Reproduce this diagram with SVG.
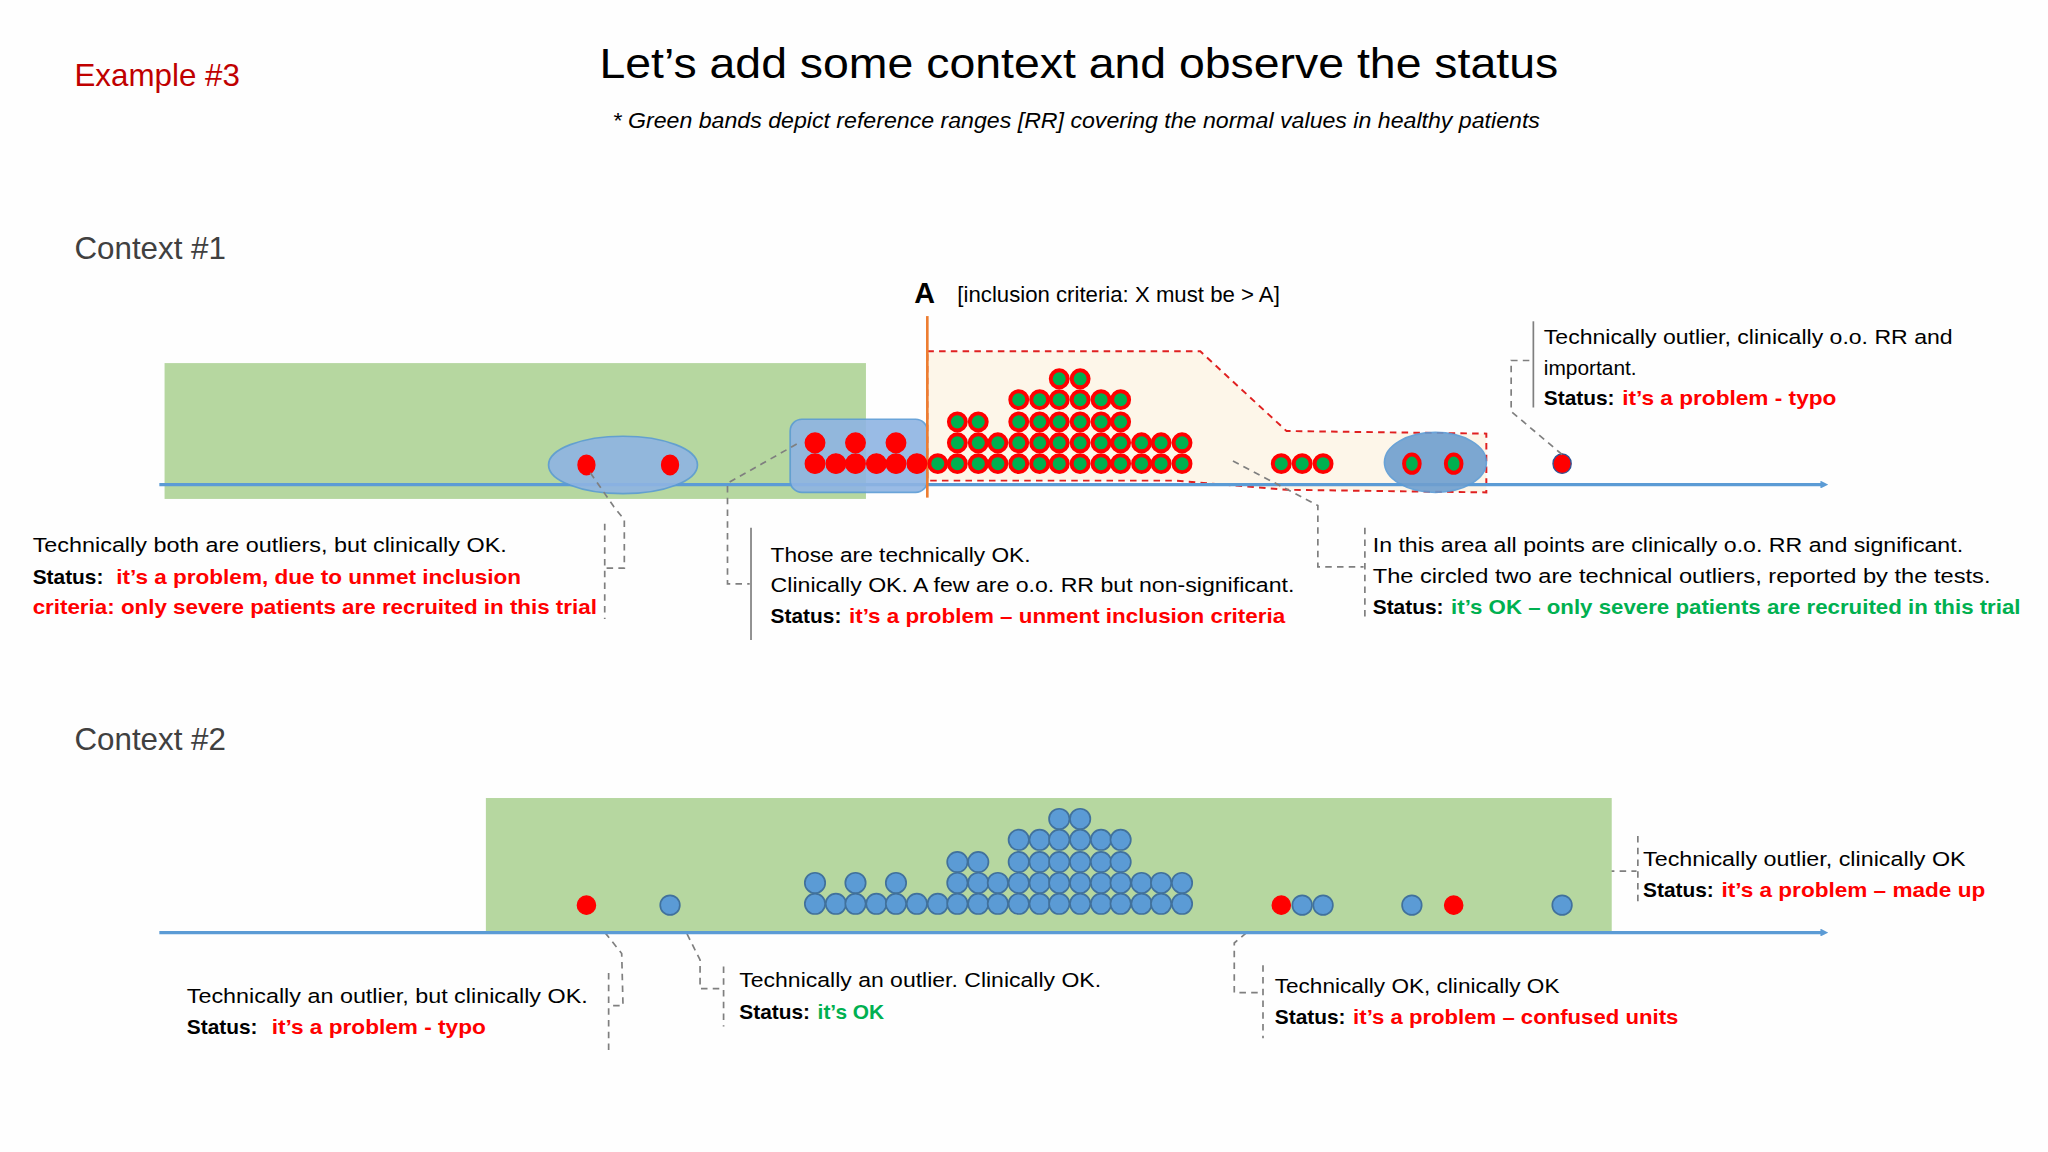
<svg xmlns="http://www.w3.org/2000/svg" width="2048" height="1152" viewBox="0 0 2048 1152">
<defs>
<style>
text{font-family:"Liberation Sans","Open Sans",sans-serif;fill:#000}
.t{font-size:16px}
.b{font-weight:bold}
.r{fill:#ff0000;font-weight:bold}
.g{fill:#00b050;font-weight:bold}
.h{font-size:24px;fill:#404040}
.ax{stroke:#5b9bd5;stroke-width:2.5;fill:none}
.dash{stroke:#7f7f7f;stroke-width:1.3;stroke-dasharray:5,4;fill:none}
.sol{stroke:#7f7f7f;stroke-width:1.3;fill:none}
.rg{fill:#00b050;stroke:#ff0000;stroke-width:3}
.rd{fill:#ff0000;stroke:#ff0000;stroke-width:1}
.bl{fill:#5b9bd5;stroke:#41719c;stroke-width:1.3}
.band{fill:#b6d7a0}
</style>
<marker id="arr" viewBox="0 0 10 10" refX="2" refY="5" markerWidth="6" markerHeight="6" markerUnits="userSpaceOnUse" orient="auto"><path d="M0,0L10,5L0,10z" fill="#5b9bd5"/></marker>
</defs>
<rect width="2048" height="1152" fill="#fefefe"/>
<g transform="scale(1.3061)">
<g id="header">
<text x="57" y="66" style="font-size:24px;fill:#c00000">Example #3</text>
<text x="826" y="60" text-anchor="middle" style="font-size:33px" textLength="734" lengthAdjust="spacingAndGlyphs">Let’s add some context and observe the status</text>
<text x="824" y="98" text-anchor="middle" style="font-size:17px;font-style:italic" textLength="710" lengthAdjust="spacingAndGlyphs">* Green bands depict reference ranges [RR] covering the normal values in healthy patients</text>
<text x="57" y="198" class="h">Context #1</text>
<text x="57" y="574" class="h">Context #2</text>
</g>
<g id="context1">
<rect class="band" x="126" y="278" width="537" height="104"/>
<polygon points="710,269 919,269 985,330 1138,332 1138,377 985,375 900,368 710,368" fill="#fdf6e9" stroke="#e02020" stroke-width="1.5" stroke-dasharray="5,4"/>
<line class="ax" x1="122" y1="371" x2="1395" y2="371" marker-end="url(#arr)" stroke-width="2.5"/>
<ellipse cx="477" cy="356" rx="57" ry="22" fill="#8fb4e3" stroke="#5b9bd5" stroke-width="1.3" opacity="0.9"/>
<rect x="605" y="321" width="105" height="56" rx="9" fill="#8fb4e3" stroke="#5b9bd5" stroke-width="1.3" opacity="0.9"/>
<line x1="710" y1="242" x2="710" y2="381" stroke="#ed7d31" stroke-width="2"/>
<text x="700" y="232" class="b" style="font-size:22px">A</text>
<text x="733" y="231" style="font-size:17px">[inclusion criteria: X must be &gt; A]</text>
<ellipse cx="1099" cy="354" rx="39" ry="23" fill="#6f9fcf" stroke="#5b9bd5" stroke-width="1.3" opacity="0.9"/>
<g id="c1dots">
<ellipse class="rd" cx="449" cy="356" rx="6.5" ry="7.5"/><ellipse class="rd" cx="513" cy="356" rx="6.5" ry="7.5"/>
<circle class="rd" cx="624" cy="355" r="7.5"/><circle class="rd" cx="640" cy="355" r="7.5"/><circle class="rd" cx="655" cy="355" r="7.5"/><circle class="rd" cx="671" cy="355" r="7.5"/><circle class="rd" cx="686" cy="355" r="7.5"/><circle class="rd" cx="702" cy="355" r="7.5"/>
<circle class="rd" cx="624" cy="339" r="7.5"/><circle class="rd" cx="655" cy="339" r="7.5"/><circle class="rd" cx="686" cy="339" r="7.5"/>
<circle class="rg" cx="718" cy="355" r="6.5"/><circle class="rg" cx="733" cy="355" r="6.5"/><circle class="rg" cx="749" cy="355" r="6.5"/><circle class="rg" cx="764" cy="355" r="6.5"/><circle class="rg" cx="780" cy="355" r="6.5"/><circle class="rg" cx="796" cy="355" r="6.5"/><circle class="rg" cx="811" cy="355" r="6.5"/><circle class="rg" cx="827" cy="355" r="6.5"/><circle class="rg" cx="843" cy="355" r="6.5"/><circle class="rg" cx="858" cy="355" r="6.5"/><circle class="rg" cx="874" cy="355" r="6.5"/><circle class="rg" cx="889" cy="355" r="6.5"/><circle class="rg" cx="905" cy="355" r="6.5"/>
<circle class="rg" cx="733" cy="339" r="6.5"/><circle class="rg" cx="749" cy="339" r="6.5"/><circle class="rg" cx="764" cy="339" r="6.5"/><circle class="rg" cx="780" cy="339" r="6.5"/><circle class="rg" cx="796" cy="339" r="6.5"/><circle class="rg" cx="811" cy="339" r="6.5"/><circle class="rg" cx="827" cy="339" r="6.5"/><circle class="rg" cx="843" cy="339" r="6.5"/><circle class="rg" cx="858" cy="339" r="6.5"/><circle class="rg" cx="874" cy="339" r="6.5"/><circle class="rg" cx="889" cy="339" r="6.5"/><circle class="rg" cx="905" cy="339" r="6.5"/>
<circle class="rg" cx="733" cy="323" r="6.5"/><circle class="rg" cx="749" cy="323" r="6.5"/><circle class="rg" cx="780" cy="323" r="6.5"/><circle class="rg" cx="796" cy="323" r="6.5"/><circle class="rg" cx="811" cy="323" r="6.5"/><circle class="rg" cx="827" cy="323" r="6.5"/><circle class="rg" cx="843" cy="323" r="6.5"/><circle class="rg" cx="858" cy="323" r="6.5"/>
<circle class="rg" cx="780" cy="306" r="6.5"/><circle class="rg" cx="796" cy="306" r="6.5"/><circle class="rg" cx="811" cy="306" r="6.5"/><circle class="rg" cx="827" cy="306" r="6.5"/><circle class="rg" cx="843" cy="306" r="6.5"/><circle class="rg" cx="858" cy="306" r="6.5"/>
<circle class="rg" cx="811" cy="290" r="6.5"/><circle class="rg" cx="827" cy="290" r="6.5"/>
<circle class="rg" cx="981" cy="355" r="6.5"/><circle class="rg" cx="997" cy="355" r="6.5"/><circle class="rg" cx="1013" cy="355" r="6.5"/>
<ellipse class="rg" cx="1081" cy="355" rx="6" ry="7"/><ellipse class="rg" cx="1113" cy="355" rx="6" ry="7"/>
<ellipse cx="1196" cy="355" rx="7" ry="7.5" fill="#ff0000" stroke="#2f5597" stroke-width="1"/>
</g>
</g>
<g id="connectors">
<path class="dash" d="M452,362 L470,388 L478,398 L478,435 L463,435"/>
<line class="dash" x1="463" y1="401" x2="463" y2="474"/>
<path class="dash" d="M610,340 L557,370 L557,447 L574,447"/>
<line class="sol" x1="575" y1="404" x2="575" y2="490"/>
<path class="dash" d="M944,353 L1009,387 L1009,434 L1044,434"/>
<line class="dash" x1="1045" y1="404" x2="1045" y2="475"/>
<path class="dash" d="M1196,348 L1157,315 L1157,276 L1173,276"/>
<line class="sol" x1="1174" y1="246" x2="1174" y2="312"/>
<path class="dash" d="M452,700 L476,730 L477,770 L466,770"/>
<line class="dash" x1="466" y1="745" x2="466" y2="808"/>
<path class="dash" d="M522,707 L536,735 L536,757 L553,757"/>
<line class="dash" x1="554" y1="740" x2="554" y2="786"/>
<path class="dash" d="M975,697 L945,722 L945,760 L966,760"/>
<line class="dash" x1="967" y1="739" x2="967" y2="795"/>
<path class="dash" d="M1118,690 L1183,667 L1253,667"/>
<line class="dash" x1="1254" y1="640" x2="1254" y2="690"/>
</g>
<g id="notes1">
<text class="t" x="25" y="423" textLength="363" lengthAdjust="spacingAndGlyphs">Technically both are outliers, but clinically OK.</text>
<text class="t b" x="25" y="447">Status:</text>
<text class="t r" x="89" y="447" textLength="310" lengthAdjust="spacingAndGlyphs">it’s a problem, due to unmet inclusion</text>
<text class="t r" x="25" y="470" textLength="432" lengthAdjust="spacingAndGlyphs">criteria: only severe patients are recruited in this trial</text>
<text class="t" x="590" y="430" textLength="199" lengthAdjust="spacingAndGlyphs">Those are technically OK.</text>
<text class="t" x="590" y="453" textLength="401" lengthAdjust="spacingAndGlyphs">Clinically OK. A few are o.o. RR but non-significant.</text>
<text class="t b" x="590" y="477">Status:</text>
<text class="t r" x="650" y="477" textLength="334" lengthAdjust="spacingAndGlyphs">it’s a problem – unment inclusion criteria</text>
<text class="t" x="1051" y="423" textLength="452" lengthAdjust="spacingAndGlyphs">In this area all points are clinically o.o. RR and significant.</text>
<text class="t" x="1051" y="446" textLength="473" lengthAdjust="spacingAndGlyphs">The circled two are technical outliers, reported by the tests.</text>
<text class="t b" x="1051" y="470">Status:</text>
<text class="t g" x="1111" y="470" textLength="436" lengthAdjust="spacingAndGlyphs">it’s OK – only severe patients are recruited in this trial</text>
<text class="t" x="1182" y="263" textLength="313" lengthAdjust="spacingAndGlyphs">Technically outlier, clinically o.o. RR and</text>
<text class="t" x="1182" y="287">important.</text>
<text class="t b" x="1182" y="310">Status:</text>
<text class="t r" x="1242" y="310" textLength="164" lengthAdjust="spacingAndGlyphs">it’s a problem - typo</text>
</g>
<g id="context2">
<rect class="band" x="372" y="611" width="862" height="103"/>
<line class="ax" x1="122" y1="714" x2="1395" y2="714" marker-end="url(#arr)"/>
<circle class="rd" cx="449" cy="693" r="7"/><circle class="bl" cx="513" cy="693" r="7.5"/>
<circle class="rd" cx="981" cy="693" r="7"/><circle class="bl" cx="997" cy="693" r="7.5"/><circle class="bl" cx="1013" cy="693" r="7.5"/>
<circle class="bl" cx="1081" cy="693" r="7.5"/><circle class="rd" cx="1113" cy="693" r="7"/><circle class="bl" cx="1196" cy="693" r="7.5"/>
<g id="c2dots">
<circle class="bl" cx="624" cy="692" r="7.8"/><circle class="bl" cx="640" cy="692" r="7.8"/><circle class="bl" cx="655" cy="692" r="7.8"/><circle class="bl" cx="671" cy="692" r="7.8"/><circle class="bl" cx="686" cy="692" r="7.8"/><circle class="bl" cx="702" cy="692" r="7.8"/><circle class="bl" cx="718" cy="692" r="7.8"/><circle class="bl" cx="733" cy="692" r="7.8"/><circle class="bl" cx="749" cy="692" r="7.8"/><circle class="bl" cx="764" cy="692" r="7.8"/><circle class="bl" cx="780" cy="692" r="7.8"/><circle class="bl" cx="796" cy="692" r="7.8"/><circle class="bl" cx="811" cy="692" r="7.8"/><circle class="bl" cx="827" cy="692" r="7.8"/><circle class="bl" cx="843" cy="692" r="7.8"/><circle class="bl" cx="858" cy="692" r="7.8"/><circle class="bl" cx="874" cy="692" r="7.8"/><circle class="bl" cx="889" cy="692" r="7.8"/><circle class="bl" cx="905" cy="692" r="7.8"/>
<circle class="bl" cx="624" cy="676" r="7.8"/><circle class="bl" cx="655" cy="676" r="7.8"/><circle class="bl" cx="686" cy="676" r="7.8"/><circle class="bl" cx="733" cy="676" r="7.8"/><circle class="bl" cx="749" cy="676" r="7.8"/><circle class="bl" cx="764" cy="676" r="7.8"/><circle class="bl" cx="780" cy="676" r="7.8"/><circle class="bl" cx="796" cy="676" r="7.8"/><circle class="bl" cx="811" cy="676" r="7.8"/><circle class="bl" cx="827" cy="676" r="7.8"/><circle class="bl" cx="843" cy="676" r="7.8"/><circle class="bl" cx="858" cy="676" r="7.8"/><circle class="bl" cx="874" cy="676" r="7.8"/><circle class="bl" cx="889" cy="676" r="7.8"/><circle class="bl" cx="905" cy="676" r="7.8"/>
<circle class="bl" cx="733" cy="660" r="7.8"/><circle class="bl" cx="749" cy="660" r="7.8"/><circle class="bl" cx="780" cy="660" r="7.8"/><circle class="bl" cx="796" cy="660" r="7.8"/><circle class="bl" cx="811" cy="660" r="7.8"/><circle class="bl" cx="827" cy="660" r="7.8"/><circle class="bl" cx="843" cy="660" r="7.8"/><circle class="bl" cx="858" cy="660" r="7.8"/>
<circle class="bl" cx="780" cy="643" r="7.8"/><circle class="bl" cx="796" cy="643" r="7.8"/><circle class="bl" cx="811" cy="643" r="7.8"/><circle class="bl" cx="827" cy="643" r="7.8"/><circle class="bl" cx="843" cy="643" r="7.8"/><circle class="bl" cx="858" cy="643" r="7.8"/>
<circle class="bl" cx="811" cy="627" r="7.8"/><circle class="bl" cx="827" cy="627" r="7.8"/>
</g>
</g>
<g id="notes2">
<text class="t" x="143" y="768" textLength="307" lengthAdjust="spacingAndGlyphs">Technically an outlier, but clinically OK.</text>
<text class="t b" x="143" y="792">Status:</text>
<text class="t r" x="208" y="792" textLength="164" lengthAdjust="spacingAndGlyphs">it’s a problem - typo</text>
<text class="t" x="566" y="756" textLength="277" lengthAdjust="spacingAndGlyphs">Technically an outlier. Clinically OK.</text>
<text class="t b" x="566" y="780">Status:</text>
<text class="t g" x="626" y="780">it’s OK</text>
<text class="t" x="976" y="760" textLength="218" lengthAdjust="spacingAndGlyphs">Technically OK, clinically OK</text>
<text class="t b" x="976" y="784">Status:</text>
<text class="t r" x="1036" y="784" textLength="249" lengthAdjust="spacingAndGlyphs">it’s a problem – confused units</text>
<text class="t" x="1258" y="663" textLength="247" lengthAdjust="spacingAndGlyphs">Technically outlier, clinically OK</text>
<text class="t b" x="1258" y="687">Status:</text>
<text class="t r" x="1318" y="687" textLength="202" lengthAdjust="spacingAndGlyphs">it’s a problem – made up</text>
</g>
</g>
</svg>
